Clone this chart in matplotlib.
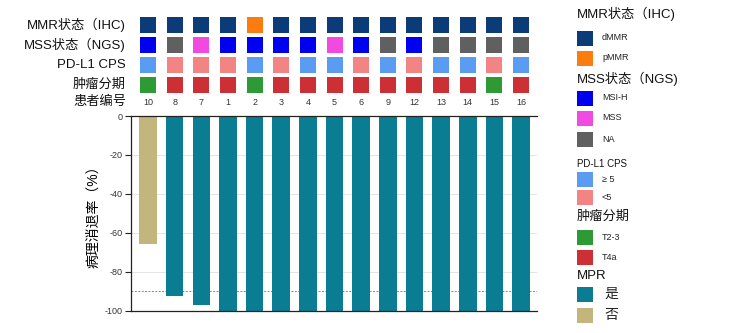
import matplotlib
matplotlib.use("Agg")
import matplotlib.pyplot as plt
from matplotlib.patches import Rectangle

plt.rcParams['font.family'] = ['Liberation Sans', 'Noto Sans CJK SC', 'DejaVu Sans']

# ---------------- data ----------------
patients = ['10', '8', '7', '1', '2', '3', '4', '5', '6', '9', '12', '13', '14', '15', '16']
mmr = ['dMMR', 'dMMR', 'dMMR', 'dMMR', 'pMMR', 'dMMR', 'dMMR', 'dMMR', 'dMMR', 'dMMR',
       'dMMR', 'dMMR', 'dMMR', 'dMMR', 'dMMR']
mss = ['MSI-H', 'NA', 'MSS', 'MSI-H', 'MSI-H', 'MSI-H', 'MSI-H', 'MSS', 'MSI-H', 'NA',
       'MSI-H', 'NA', 'NA', 'NA', 'NA']
pdl1 = ['≥ 5', '<5', '<5', '<5', '≥ 5', '<5', '≥ 5', '≥ 5', '<5', '≥ 5',
        '<5', '≥ 5', '≥ 5', '<5', '≥ 5']
stage = ['T2-3', 'T4a', 'T4a', 'T4a', 'T2-3', 'T4a', 'T4a', 'T4a', 'T4a', 'T4a',
         'T4a', 'T4a', 'T4a', 'T2-3', 'T4a']
regression = [-66, -92.5, -97, -100, -100, -100, -100, -100, -100, -100,
              -100, -100, -100, -100, -100]
mpr = ['否', '是', '是', '是', '是', '是', '是', '是', '是', '是', '是', '是', '是', '是', '是']

row_titles = ['MMR状态（IHC)', 'MSS状态（NGS)', 'PD-L1 CPS', '肿瘤分期', '患者编号']

colors = {
    'dMMR': '#0b3c78', 'pMMR': '#fb7d10',
    'MSI-H': '#0000f0', 'MSS': '#f04ae0', 'NA': '#606060',
    '≥ 5': '#5a9cf2', '<5': '#f28484',
    'T2-3': '#2e9a35', 'T4a': '#cc3035',
    '是': '#0b7d93', '否': '#c3b67c',
}

legend_titles = ['MMR状态（IHC)', 'MSS状态（NGS)', 'PD-L1 CPS', '肿瘤分期', 'MPR']
legend_title_sizes = [9.5, 9.5, 7, 9.5, 9.5]
legend_items = [['dMMR', 'pMMR'], ['MSI-H', 'MSS', 'NA'], ['≥ 5', '<5'], ['T2-3', 'T4a'], ['是', '否']]

# ---------------- figure ----------------
W, H = 730, 333
fig = plt.figure(figsize=(W / 100, H / 100), dpi=100)


def fx(x):
    return x / W


def fy(y):
    return 1 - y / H


# main axes
ax_l, ax_r, ax_t, ax_b = 131, 537, 116, 310.5
ax = fig.add_axes([fx(ax_l), fy(ax_b), fx(ax_r - ax_l), (ax_b - ax_t) / H])
n = len(patients)
xs = list(range(n))
ax.bar(xs, regression, width=0.66, color=[colors[m] for m in mpr], zorder=2)
ax.set_xlim(-0.64, n - 1 + 0.6)
ax.set_ylim(-100, 0)
ax.set_yticks([0, -20, -40, -60, -80, -100])
ax.set_yticklabels(['0', '-20', '-40', '-60', '-80', '-100'], fontsize=6.5, color='#333333')
ax.set_xticks([])
for v in [-20, -40, -60, -80]:
    ax.axhline(v, color='#e4e4e4', lw=0.7, zorder=1)
ax.axhline(-90, color='#888888', lw=0.7, ls=(0, (2, 1.5)), zorder=1)
ax.spines['right'].set_visible(False)
for s in ['left', 'top', 'bottom']:
    ax.spines[s].set_color('#222222')
    ax.spines[s].set_linewidth(0.9)
ax.tick_params(axis='y', length=4, width=0.8, color='#222222', pad=2)
ax.set_ylabel('病理消退率（%）', fontsize=10, labelpad=3)

# heatmap axes (data y = pixel y from top)
axh = fig.add_axes([fx(ax_l), fy(ax_t), fx(ax_r - ax_l), ax_t / H])
axh.set_xlim(ax.get_xlim())
axh.set_ylim(ax_t, 0)
axh.axis('off')
row_y = [24.5, 44.5, 64.5, 84.5]
sq = 16
spx = 26.67
for r, vals in enumerate([mmr, mss, pdl1, stage]):
    for i, v in enumerate(vals):
        axh.add_patch(Rectangle((i - (sq / spx) / 2, row_y[r] - sq / 2), sq / spx, sq,
                                facecolor=colors[v], edgecolor='none'))
for i, p in enumerate(patients):
    axh.text(i, 103, p, ha='center', va='center', fontsize=6.5, color='#333333')
for r, t in enumerate(row_titles):
    y = row_y[r] if r < 4 else 102
    fig.text(fx(126), fy(y), t, ha='right', va='center', fontsize=9.5, color='#111111')

# legend (pixel layout)
title_y = [14, 79, 164, 217, 276]
item_y = [[38, 58], [98, 118, 139], [179, 197], [237, 257], [294, 315]]
for title, ts, items, ty, iys in zip(legend_titles, legend_title_sizes, legend_items, title_y, item_y):
    fig.text(fx(577), fy(ty), title, ha='left', va='center', fontsize=ts, color='#111111')
    for it, yy in zip(items, iys):
        fig.patches.append(Rectangle((fx(577), fy(yy + 7.5)), fx(16), 15 / H,
                                     transform=fig.transFigure, facecolor=colors[it],
                                     edgecolor='none'))
        lsize = 10 if it in ('是', '否') else 6.5
        lx = 604 if it in ('是', '否') else 602
        fig.text(fx(lx), fy(yy), it, ha='left', va='center', fontsize=lsize, color='#222222')

fig.savefig('out.png', dpi=100)
